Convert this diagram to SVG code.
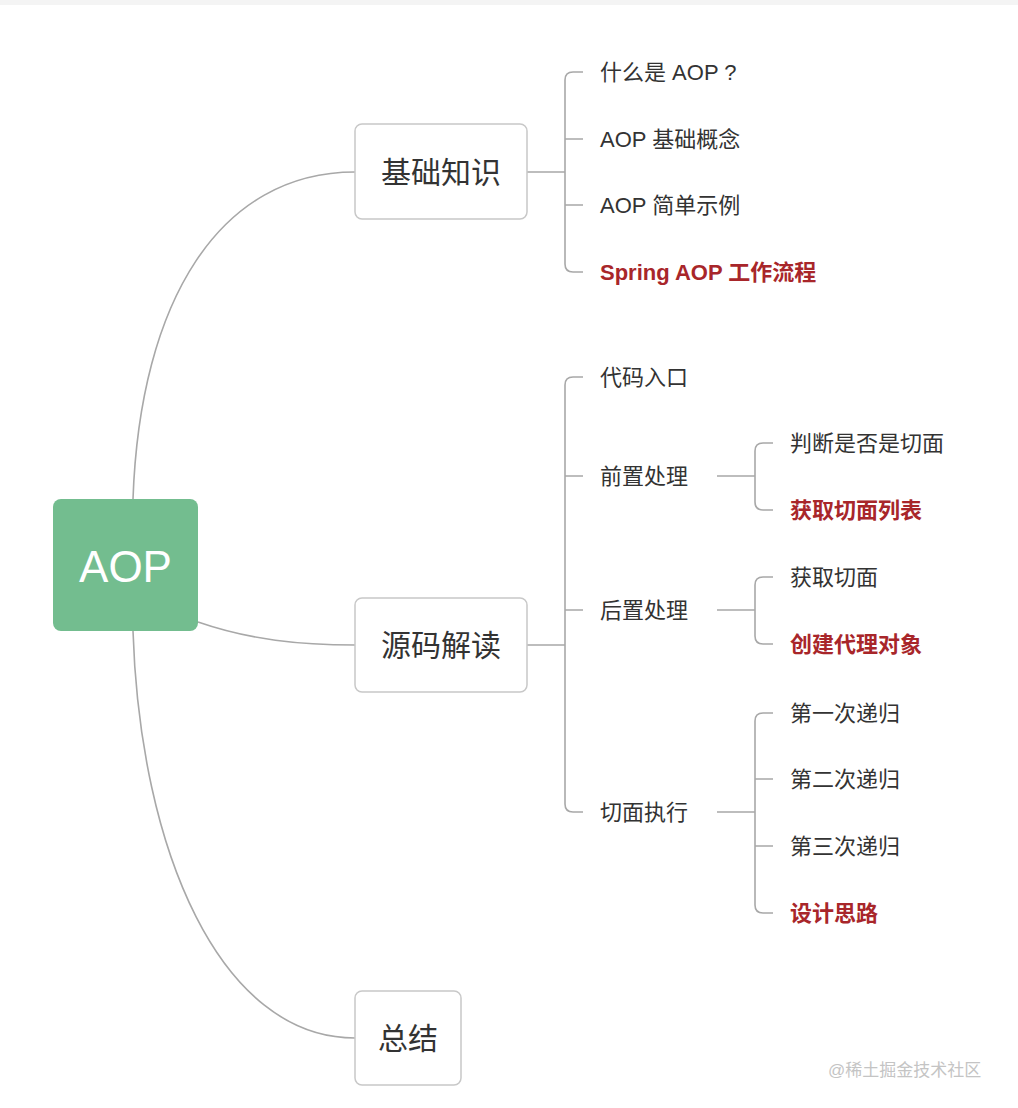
<svg xmlns="http://www.w3.org/2000/svg" width="1018" height="1108" viewBox="0 0 1018 1108">
<style>
.box{fill:#fff;stroke:#c8c8c8;stroke-width:1.5}
.t{font-family:"Liberation Sans","Noto Sans CJK SC",sans-serif;fill:#333}
.m{font-size:30px}
.l{font-size:22px}
.r{fill:#a8262a;font-weight:bold}
.c{fill:none;stroke:#a8a8a8;stroke-width:1.6}
</style>
<rect width="1018" height="1108" fill="#fff"/>
<rect width="1018" height="5" fill="#f4f4f4"/>
<g id="connectors" class="c">
<path d="M133,499 C140,300 220,172 355,172"/>
<path d="M198,622 C250,640 300,645 355,645"/>
<path d="M133,631 C140,850 220,1038 355,1038"/>
<path d="M527,172 H565 M583,72 H573 Q565,72 565,80 V264 Q565,272 573,272 H583 M565,139 H583 M565,205 H583"/>
<path d="M527,645 H565 M583,377 H573 Q565,377 565,385 V804 Q565,812 573,812 H583 M565,476 H583 M565,610 H583"/>
<path d="M717,476 H755 M773,443 H763 Q755,443 755,451 V502 Q755,510 763,510 H773"/>
<path d="M717,610 H755 M773,577 H763 Q755,577 755,585 V636 Q755,644 763,644 H773"/>
<path d="M717,812 H755 M773,713 H763 Q755,713 755,721 V905 Q755,913 763,913 H773 M755,779 H773 M755,846 H773"/>
</g>
<g id="root"><rect x="53" y="499" width="145" height="132" rx="8" fill="#73bd8f"/><text class="t" x="125.5" y="582" font-size="44" text-anchor="middle" fill="#fff" style="fill:#fff">AOP</text></g>
<g id="n1"><rect class="box" x="355" y="124" width="172" height="95" rx="7"/><text class="t m" x="441" y="183" text-anchor="middle">基础知识</text></g>
<g id="n2"><rect class="box" x="355" y="598" width="172" height="94" rx="7"/><text class="t m" x="441" y="656" text-anchor="middle">源码解读</text></g>
<g id="n3"><rect class="box" x="355" y="991" width="106" height="94" rx="7"/><text class="t m" x="408" y="1049" text-anchor="middle">总结</text></g>
<g id="leaves" class="t l">
<text x="600" y="80">什么是 AOP ?</text>
<text x="600" y="147">AOP 基础概念</text>
<text x="600" y="213">AOP 简单示例</text>
<text x="600" y="280" class="r">Spring AOP 工作流程</text>
<text x="600" y="385">代码入口</text>
<text x="600" y="484">前置处理</text>
<text x="600" y="618">后置处理</text>
<text x="600" y="820">切面执行</text>
<text x="790" y="451">判断是否是切面</text>
<text x="790" y="518" class="r">获取切面列表</text>
<text x="790" y="585">获取切面</text>
<text x="790" y="652" class="r">创建代理对象</text>
<text x="790" y="721">第一次递归</text>
<text x="790" y="787">第二次递归</text>
<text x="790" y="854">第三次递归</text>
<text x="790" y="921" class="r">设计思路</text>
</g>
<text class="t" x="828" y="1076" font-size="17" style="fill:#c4c4c4">@稀土掘金技术社区</text>
</svg>
